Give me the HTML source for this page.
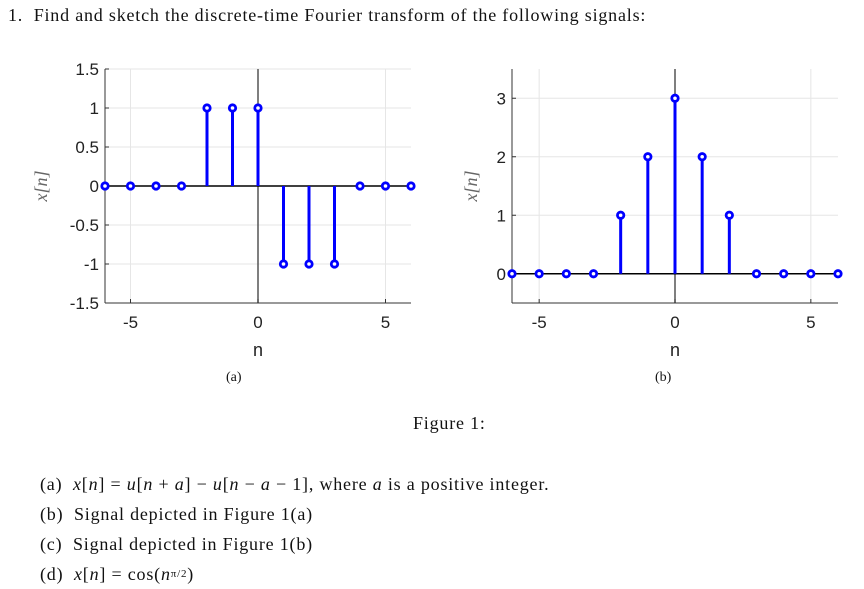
<!DOCTYPE html>
<html><head><meta charset="utf-8"><style>
body{margin:0;width:864px;height:589px;background:#fff;overflow:hidden;position:relative;font-family:"Liberation Serif",serif;color:#111}
.t{position:absolute;font-size:18px;white-space:nowrap;letter-spacing:0.8px}
i{font-style:italic}
</style></head><body>
<div class="t" style="left:8px;top:5px">1.&nbsp; Find and sketch the discrete-time Fourier transform of the following signals:</div>
<svg id="s" width="864" height="589" style="position:absolute;left:0;top:0"></svg>
<div class="t" style="left:226px;top:370px;font-size:14px;letter-spacing:0">(a)</div>
<div class="t" style="left:655px;top:370px;font-size:14px;letter-spacing:0">(b)</div>
<div class="t" style="left:413px;top:413px">Figure 1:</div>
<div class="t" style="left:40px;top:474px">(a)&nbsp; <i>x</i>[<i>n</i>] = <i>u</i>[<i>n</i> + <i>a</i>] − <i>u</i>[<i>n</i> − <i>a</i> − 1], where <i>a</i> is a positive integer.</div>
<div class="t" style="left:40px;top:504px">(b)&nbsp; Signal depicted in Figure 1(a)</div>
<div class="t" style="left:40px;top:534px">(c)&nbsp; Signal depicted in Figure 1(b)</div>
<div class="t" style="left:40px;top:564px">(d)&nbsp; <i>x</i>[<i>n</i>] = cos(<i>n</i><span style="font-size:11px;vertical-align:3px">π/2</span>)</div>
<script>
const nA=[-6,-5,-4,-3,-2,-1,0,1,2,3,4,5,6];
const valsA=[0,0,0,0,1,1,1,-1,-1,-1,0,0,0];
const yTicksA=[1.5,1,0.5,0,-0.5,-1,-1.5];
const nB=[-6,-5,-4,-3,-2,-1,0,1,2,3,4,5,6];
const valsB=[0,0,0,0,1,2,3,2,1,0,0,0,0];
const yTicksB=[0,1,2,3];
const xTicks=[-5,0,5];
const NS='http://www.w3.org/2000/svg';
const svg=document.getElementById('s');
function mk(t,a,name,p){const e=document.createElementNS(NS,t);for(const k in a)e.setAttribute(k,a[k]);


(p||svg).appendChild(e);return e;}
function chart(cfg){
const g=mk('g',{},cfg.name);
const X=v=>cfg.x0+(v-cfg.xmin)/(cfg.xmax-cfg.xmin)*(cfg.x1-cfg.x0);
const Y=v=>cfg.y1-(v-cfg.ymin)/(cfg.ymax-cfg.ymin)*(cfg.y1-cfg.y0);
xTicks.forEach(v=>{mk('line',{x1:X(v),x2:X(v),y1:cfg.y0,y2:cfg.y1,stroke:'#e6e6e6'},'x-grid',g);});
cfg.yt.forEach(v=>{mk('line',{x1:cfg.x0,x2:cfg.x1,y1:Y(v),y2:Y(v),stroke:'#e6e6e6'},'y-grid',g);});
mk('line',{x1:X(0),x2:X(0),y1:cfg.y0,y2:cfg.y1,stroke:'#555','stroke-width':1.5},'zero-vline',g);
mk('line',{x1:cfg.x0,x2:cfg.x0,y1:cfg.y0,y2:cfg.y1,stroke:'#333'},'y-axis',g);
mk('line',{x1:cfg.x0,x2:cfg.x1,y1:cfg.y1,y2:cfg.y1,stroke:'#333'},'x-axis',g);
cfg.yt.forEach(v=>{mk('line',{x1:cfg.x0,x2:cfg.x0+4,y1:Y(v),y2:Y(v),stroke:'#333'},'y-tick',g);
const t=mk('text',{x:cfg.x0-6,y:Y(v)+6,'text-anchor':'end','font-family':'Liberation Sans,sans-serif','font-size':17,fill:'#222'},'y-tick-label',g);t.textContent=v;});
xTicks.forEach(v=>{mk('line',{x1:X(v),x2:X(v),y1:cfg.y1,y2:cfg.y1-4,stroke:'#333'},'x-tick',g);
const t=mk('text',{x:X(v),y:cfg.y1+25,'text-anchor':'middle','font-family':'Liberation Sans,sans-serif','font-size':17,fill:'#222'},'x-tick-label',g);t.textContent=v;});
const xl=mk('text',{x:X(0),y:cfg.y1+53,'text-anchor':'middle','font-family':'Liberation Sans,sans-serif','font-size':18,fill:'#222'},'x-axis-title',g);xl.textContent='n';
const yl=mk('text',{x:cfg.ylx,y:(cfg.y0+cfg.y1)/2,'text-anchor':'middle','font-family':'Liberation Serif,serif','font-style':'italic','font-size':18,fill:'#666',transform:`rotate(-90 ${cfg.ylx} ${(cfg.y0+cfg.y1)/2})`},'y-axis-title',g);yl.textContent='x[n]';
mk('line',{x1:cfg.x0,x2:cfg.x1,y1:Y(0),y2:Y(0),stroke:'#000','stroke-width':1.5},'baseline',g);
cfg.n.forEach((n,i)=>{const v=cfg.v[i];
if(v!==0)mk('line',{x1:X(n),x2:X(n),y1:Y(0),y2:Y(v),stroke:'#0000ff','stroke-width':3},'stem',g);
mk('circle',{cx:X(n),cy:Y(v),r:3.2,fill:'#fff',stroke:'#0000ff','stroke-width':2.8},'stem-marker',g);});
}
chart({name:'chart-a',x0:105,x1:411,y0:69,y1:303,xmin:-6,xmax:6,ymin:-1.5,ymax:1.5,yt:yTicksA,n:nA,v:valsA,ylx:47});
chart({name:'chart-b',x0:512,x1:838,y0:69,y1:303,xmin:-6,xmax:6,ymin:-0.5,ymax:3.5,yt:yTicksB,n:nB,v:valsB,ylx:477});
</script>
</body></html>
